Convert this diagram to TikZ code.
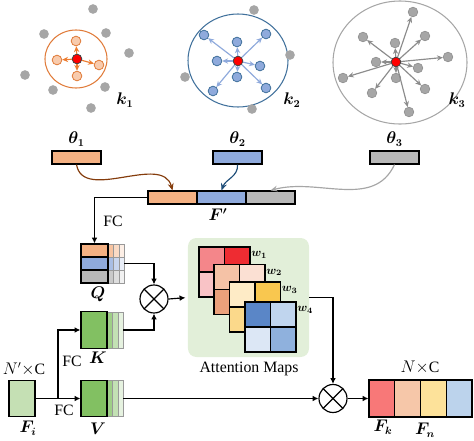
\documentclass[tikz,border=0pt]{standalone}
\usepackage{fontspec}
\setmainfont{Liberation Serif}
\usepackage{bm}
\usetikzlibrary{arrows.meta,positioning}

\definecolor{ringorange}{HTML}{E07B39}
\definecolor{ptorange}{HTML}{F8CBAD}
\definecolor{arrorange}{HTML}{ED7D31}
\definecolor{ringblue}{HTML}{41719C}
\definecolor{ptblue}{HTML}{8FAADC}
\definecolor{arrblue}{HTML}{8FAADC}
\definecolor{ringgray}{HTML}{A6A6A6}
\definecolor{ptgray}{HTML}{A6A6A6}
\definecolor{arrgray}{HTML}{8C8C8C}
\definecolor{segorange}{HTML}{F4B183}
\definecolor{segblue}{HTML}{8FAADC}
\definecolor{seggray}{HTML}{B8B8B8}
\definecolor{kgreen}{HTML}{82C062}
\definecolor{figreen}{HTML}{C5E0B4}
\definecolor{attgreen}{HTML}{E2EFD9}
\definecolor{thbrown}{HTML}{843C0C}
\definecolor{thblue}{HTML}{1F4E79}
\definecolor{outred}{HTML}{F87878}
\definecolor{outpeach}{HTML}{F6C7A9}
\definecolor{outyellow}{HTML}{FDE29A}
\definecolor{outblue}{HTML}{BCD3EC}
% attention map cells
\definecolor{wa1}{HTML}{F4868A}\definecolor{wb1}{HTML}{EE2C32}\definecolor{wc1}{HTML}{F9C3C6}\definecolor{wd1}{HTML}{F5A0A3}
\definecolor{wa2}{HTML}{F5C2A6}\definecolor{wb2}{HTML}{FBE0D3}\definecolor{wc2}{HTML}{EAA07B}\definecolor{wd2}{HTML}{F5C2A6}
\definecolor{wa3}{HTML}{FEEBC6}\definecolor{wb3}{HTML}{F9C74F}\definecolor{wc3}{HTML}{FBD98B}\definecolor{wd3}{HTML}{FEEBC6}
\definecolor{wa4}{HTML}{5A86C7}\definecolor{wb4}{HTML}{C0D5EE}\definecolor{wc4}{HTML}{DCE7F5}\definecolor{wd4}{HTML}{8FB1DD}

\tikzset{
  gpt/.style={circle, fill=ptgray, inner sep=0pt, minimum size=0.29cm},
  opt/.style={circle, draw=ringorange, fill=ptorange, line width=0.7pt, inner sep=0pt, minimum size=0.29cm},
  bpt/.style={circle, draw=ringblue, fill=ptblue, line width=0.7pt, inner sep=0pt, minimum size=0.29cm},
  hpt/.style={circle, draw=arrgray, fill=ptgray, line width=0.5pt, inner sep=0pt, minimum size=0.29cm},
  cpt/.style={circle, draw=black!75, fill=red, line width=0.7pt, inner sep=0pt, minimum size=0.29cm},
  karr/.style={line width=1pt, -{Stealth[length=5pt,width=4.5pt]}},
  seg/.style={draw, line width=1pt, inner sep=0pt, minimum width=1.47cm, minimum height=0.39cm},
  qrow/.style={draw, line width=1pt, inner sep=0pt, minimum width=0.81cm, minimum height=0.39cm},
  kblock/.style={draw, line width=1pt, inner sep=0pt, fill=kgreen, minimum width=0.78cm, minimum height=1.1cm},
  oseg/.style={draw, line width=1pt, inner sep=0pt, minimum width=0.7725cm, minimum height=1.11cm},
  mul/.style={circle, draw, line width=1pt, minimum size=0.84cm, inner sep=0pt,
    path picture={\draw[line width=1pt] (path picture bounding box.south west) -- (path picture bounding box.north east)
      (path picture bounding box.north west) -- (path picture bounding box.south east);}},
  arr/.style={line width=1pt, -{Latex[length=5pt,width=5pt]}},
  cell/.style={line width=1pt},
}

\begin{document}
\begin{tikzpicture}[x=0.03cm, y=-0.03cm, font=\fontsize{13.5}{15}\selectfont]
    \useasboundingbox (0,0) rectangle (474,440);

    % k1: orange neighbourhood
    \draw[ringorange, line width=0.9pt] (76,59) ellipse (31 and 29);
    \node[cpt] (c1) at (77,59) {};
    \foreach \p [count=\i] in {(93,9),(44,34),(106,33),(129,53),(25,75),(53,90),(105,87),(91,108)}
        \node[gpt] (ga\i) at \p {};
    \foreach \p [count=\i] in {(76,41),(57,60),(99,65),(77,76)}
        \node[opt] (oa\i) at \p {};
    \foreach \i in {1,...,4} \draw[karr, arrorange] (c1) -- (oa\i);
    \node (k1) at (125,100) {$\bm{k_1}$};

    % k2: blue neighbourhood
    \draw[ringblue, line width=0.9pt] (238,60.5) ellipse (50 and 46.5);
    \node[cpt] (c2) at (238,61) {};
    \foreach \p [count=\i] in {(254,10),(290,55),(185,77),(252,109)}
        \node[gpt] (gb\i) at \p {};
    \foreach \p [count=\i] in {(237,42),(217,61),(260,66),(237,77),(204,35),(266,34),(213,91),(266,88)}
        \node[bpt] (ob\i) at \p {};
    \foreach \i in {1,...,8} \draw[karr, arrblue] (c2) -- (ob\i);
    \node (k2) at (292,100) {$\bm{k_2}$};

    % k3: gray neighbourhood
    \draw[ringgray, line width=0.9pt] (400,62.5) ellipse (67 and 61.5);
    \node[cpt] (c3) at (396,62) {};
    \foreach \p [count=\i] in {(395,43),(376,62),(418,68),(396,78),(413,12),(363,37),(425,36),(448,57),(343,78),(372,93),(425,89),(409,112)}
        \node[hpt] (oc\i) at \p {};
    \foreach \i in {1,...,12} \draw[karr, arrgray] (c3) -- (oc\i);
    \node (k3) at (457,100) {$\bm{k_3}$};

    % theta boxes
    \node[seg, fill=segorange] (th1) at (76.5,157.5) {};
    \node[seg, fill=segblue] (th2) at (237.5,157.5) {};
    \node[seg, fill=seggray] (th3) at (394.5,157.5) {};
    \node[above=0pt of th1] (lth1) {$\bm{\theta_1}$};
    \node[above=0pt of th2] (lth2) {$\bm{\theta_2}$};
    \node[above=0pt of th3] (lth3) {$\bm{\theta_3}$};

    % concatenated feature F'
    \node[seg, fill=segorange] (fa) at (172.5,197.5) {};
    \node[seg, fill=segblue] (fb) at (221.5,197.5) {};
    \node[seg, fill=seggray] (fc) at (270.5,197.5) {};
    \node (lf) at (218,215) {$\bm{F'}$};
    \draw[thbrown, line width=1pt, -{Stealth[length=6pt,width=5pt]}] (th1.south) to[out=-80, in=105] (fa.north);
    \draw[thblue, line width=1pt, -{Stealth[length=6pt,width=5pt]}] (th2.south) to[out=-85, in=70] (fb.north);
    \draw[ringgray, line width=1pt, -{Stealth[length=6pt,width=5pt]}] (th3.south) to[out=-115, in=15] (fc.north);

    % Q with faded copies
    \foreach \d/\o in {16/0.2,11/0.35,5/0.55} {
        \draw[black!40, fill=segorange, fill opacity=\o, line width=0.7pt] (81+\d,244) rectangle (108+\d,257);
        \draw[black!40, fill=segblue, fill opacity=\o, line width=0.7pt] (81+\d,257) rectangle (108+\d,270);
        \draw[black!40, fill=seggray, fill opacity=\o, line width=0.7pt] (81+\d,270) rectangle (108+\d,283);
    }
    \node[qrow, fill=segorange] (q1) at (94.5,250.5) {};
    \node[qrow, fill=segblue] (q2) at (94.5,263.5) {};
    \node[qrow, fill=seggray] (q3) at (94.5,276.5) {};
    \node (lq) at (98,294) {$\bm{Q}$};
    \draw[arr] (fa.west) -| (q1.north);
    \node (fc1) at (113,221) {FC};

    % K and V with faded copies
    \foreach \y in {312,380.5} \foreach \d/\o in {16/0.2,11/0.35,5/0.55}
        \draw[black!40, fill=kgreen, fill opacity=\o, line width=0.7pt] (81+\d,\y) rectangle (107+\d,\y+36);
    \node[kblock] (k) at (94,330) {};
    \node[kblock] (v) at (94,398.5) {};
    \node (lk) at (98,358) {$\bm{K}$};
    \node (lv) at (98,429) {$\bm{V}$};

    % input F_i
    \node[kblock, fill=figreen] (fi) at (22,398.5) {};
    \node (lfi) at (28,428) {$\bm{F_i}$};
    \node (lnc) at (24,369) {$N'\times$C};
    \coordinate (br) at (58,398.5);
    \draw[arr] (fi.east) -- (v.west);
    \draw[arr] (br) |- (k.west);
    \node (fc2) at (72,361) {FC};
    \node (fc3) at (64,410) {FC};

    % first product
    \node[mul] (mul1) at (154,299) {};
    \coordinate (qout) at (124,263.5);
    \coordinate (kout) at (123,330);
    \draw[arr] (qout) -| (mul1.north);
    \draw[arr] (kout) -| (mul1.south);

    % attention maps
    \node[fill=attgreen, rounded corners=0.25cm, minimum width=3.63cm, minimum height=3.57cm] (att) at (248.5,297.5) {};
    \node (latt) at (249,369) {Attention Maps};
    \draw[arr, shorten >=2pt] (mul1.east) -- (att.west);
    \foreach \x/\y/\n in {199/247/1,214/264.5/2,229.5/282/3,245/302/4} {
        \fill[wa\n] (\x,\y) rectangle +(25.5,25);
        \fill[wb\n] (\x+25.5,\y) rectangle +(25.5,25);
        \fill[wc\n] (\x,\y+25) rectangle +(25.5,25);
        \fill[wd\n] (\x+25.5,\y+25) rectangle +(25.5,25);
        \draw[cell] (\x,\y) rectangle +(51,50);
        \draw[cell] (\x+25.5,\y) -- +(0,50);
        \draw[cell] (\x,\y+25) -- +(51,0);
        \node[right, inner sep=1pt, font=\fontsize{10}{12}\selectfont] at (\x+51,\y+8) {$\bm{w_{\n}}$};
    }

    % second product and output
    \node[mul] (mul2) at (333,398.5) {};
    \coordinate (vout) at (123,398.5);
    \draw[arr] (vout) -- (mul2.west);
    \draw[arr] (att.east) -| (mul2.north);
    \node[oseg, fill=outred] (fo1) at (381.9,398.5) {};
    \node[oseg, fill=outpeach] (fo2) at (407.6,398.5) {};
    \node[oseg, fill=outyellow] (fo3) at (433.4,398.5) {};
    \node[oseg, fill=outblue] (fo4) at (459.1,398.5) {};
    \draw[arr] (mul2.east) -- (fo1.west);
    \node (lnc2) at (420,367) {$N\times$C};
    \node (lfk) at (383,427) {$\bm{F_k}$};
    \node (lfn) at (425,430) {$\bm{F_n}$};
\end{tikzpicture}
\end{document}
